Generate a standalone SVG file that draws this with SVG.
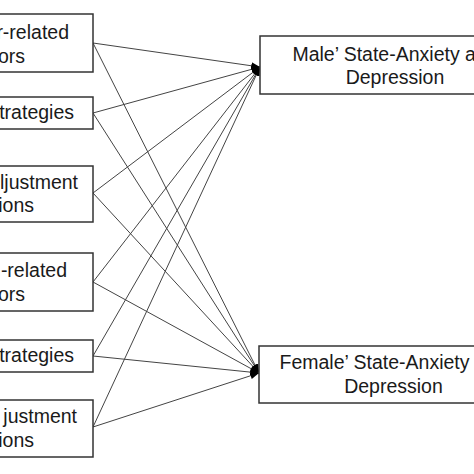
<svg xmlns="http://www.w3.org/2000/svg" width="474" height="474" viewBox="0 0 474 474">
<style>
.box{fill:#fff;stroke:#333;stroke-width:1.5}
.t{font-family:"Liberation Sans",Arial,sans-serif;font-size:19.5px;fill:#1a1a1a}
.e{text-anchor:end}
.m{text-anchor:middle}
.c{fill:none;stroke:#444;stroke-width:1}
</style>
<defs>
<marker id="ah" viewBox="0 0 10 8" refX="10" refY="4" markerWidth="9" markerHeight="7" markerUnits="userSpaceOnUse" orient="auto">
<path d="M0,0 L10,4 L0,8 Z" fill="#000"/>
</marker>
</defs>
<rect width="474" height="474" fill="#fff"/>
<g id="connectors">
<line class="c" x1="93" y1="43" x2="260" y2="67" marker-end="url(#ah)"/>
<line class="c" x1="93" y1="113" x2="260" y2="67" marker-end="url(#ah)"/>
<line class="c" x1="93" y1="193" x2="260" y2="67" marker-end="url(#ah)"/>
<line class="c" x1="93" y1="282" x2="260" y2="67" marker-end="url(#ah)"/>
<line class="c" x1="93" y1="356" x2="260" y2="67" marker-end="url(#ah)"/>
<line class="c" x1="93" y1="427" x2="260" y2="67" marker-end="url(#ah)"/>
<line class="c" x1="93" y1="43" x2="259" y2="373" marker-end="url(#ah)"/>
<line class="c" x1="93" y1="113" x2="259" y2="373" marker-end="url(#ah)"/>
<line class="c" x1="93" y1="193" x2="259" y2="373" marker-end="url(#ah)"/>
<line class="c" x1="93" y1="282" x2="259" y2="373" marker-end="url(#ah)"/>
<line class="c" x1="93" y1="356" x2="259" y2="373" marker-end="url(#ah)"/>
<line class="c" x1="93" y1="427" x2="259" y2="373" marker-end="url(#ah)"/>
</g>
<g id="n1">
<rect class="box" x="-100" y="14" width="193" height="58"/>
<text class="t e" x="69" y="39">r-related</text>
<text class="t e" x="25" y="63">ors</text>
</g>
<g id="n2">
<rect class="box" x="-100" y="97" width="193" height="32"/>
<text class="t e" x="74" y="119">trategies</text>
</g>
<g id="n3">
<rect class="box" x="-100" y="166" width="193" height="56"/>
<text class="t e" x="78" y="189">ljustment</text>
<text class="t e" x="34" y="212">ions</text>
</g>
<g id="n4">
<rect class="box" x="-100" y="253" width="193" height="58"/>
<text class="t e" x="67" y="277">-related</text>
<text class="t e" x="25" y="301">ors</text>
</g>
<g id="n5">
<rect class="box" x="-100" y="340" width="193" height="32"/>
<text class="t e" x="74" y="362">trategies</text>
</g>
<g id="n6">
<rect class="box" x="-100" y="400" width="193" height="57"/>
<text class="t e" x="77" y="423">justment</text>
<text class="t e" x="34" y="447">ions</text>
</g>
<g id="male">
<rect class="box" x="260" y="36" width="300" height="58"/>
<text class="t m" x="395" y="61">Male’ State-Anxiety and</text>
<text class="t m" x="395" y="84">Depression</text>
</g>
<g id="female">
<rect class="box" x="259" y="346" width="300" height="57"/>
<text class="t m" x="393.5" y="369">Female’ State-Anxiety and</text>
<text class="t m" x="393.5" y="393">Depression</text>
</g>
</svg>
